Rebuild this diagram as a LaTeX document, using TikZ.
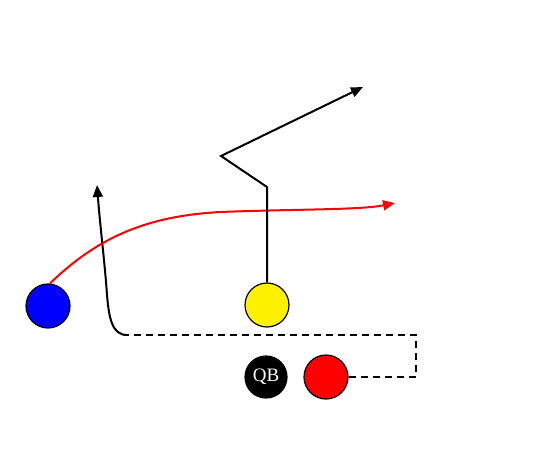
\documentclass[tikz,border=0pt]{standalone}
\usepackage{fontspec}
\setmainfont{Liberation Serif}
\usetikzlibrary{arrows.meta}
\begin{document}
\begin{tikzpicture}[x=1pt,y=-1pt,
  player/.style={circle,draw=black,line width=1.2pt,minimum size=44pt,inner sep=0pt},
  route/.style={line width=2pt,-{Triangle[length=12pt,width=10pt]}},
  dashroute/.style={line width=2pt,dash pattern=on 7pt off 5pt}]
\useasboundingbox (0,0) rectangle (540,472);
\node[player,fill=blue] (blue) at (48,306) {};
\node[player,fill=yellow] (yel) at (267,305) {};
\node[player,fill=black,minimum size=42pt,text=white,font=\fontsize{19}{22}\selectfont] (qb) at (266,377) {QB};
\node[player,fill=red] (red) at (326,377) {};
\coordinate (c1) at (416,377);
\coordinate (c2) at (416,335);
\coordinate (hook) at (127,335);
\coordinate (blueend) at (395,203);
\coordinate (stem) at (267,187);
\coordinate (post) at (221,156);
\coordinate (yend) at (363,87);
\coordinate (bend) at (97,185);
\draw[dashroute] (red.east) -- (c1) -- (c2) -- (hook);
\draw[route,black] (hook) .. controls (112,335) and (109,318) .. (107,295) .. controls (105,265) and (100,225) .. (bend);
\draw[route,red] (blue.85) .. controls (100,235) and (150,216) .. (220,212) .. controls (300,209) and (360,210) .. (blueend);
\draw[route,black] (yel.north) -- (stem) -- (post) -- (yend);
\end{tikzpicture}
\end{document}
